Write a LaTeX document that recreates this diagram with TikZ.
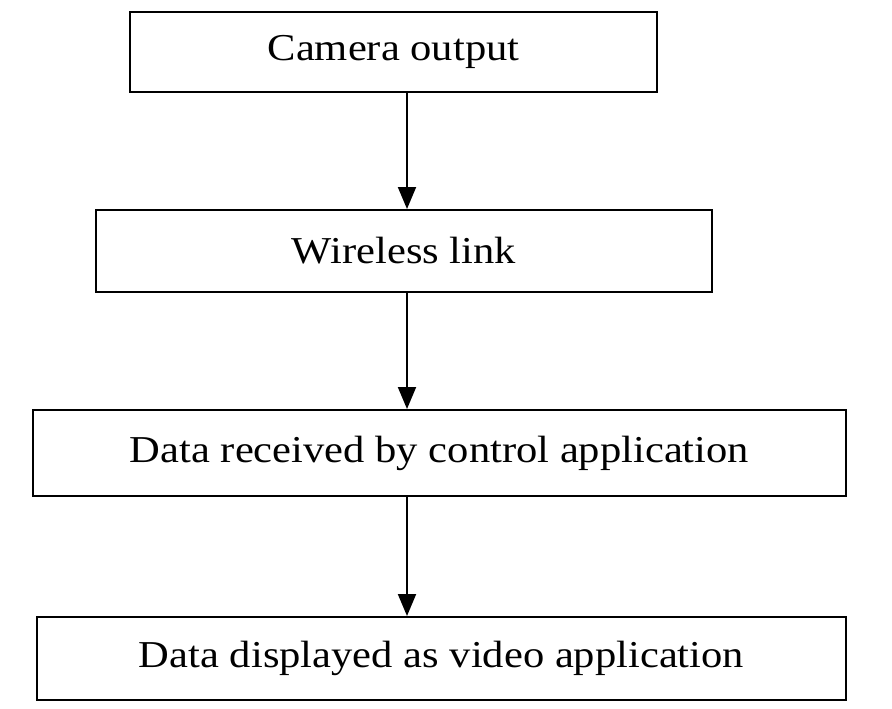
\documentclass[tikz,border=0pt]{standalone}
\usepackage{fontspec}
\setmainfont{Liberation Serif}[FakeStretch=1.12]
\usetikzlibrary{arrows.meta}
\begin{document}
\begin{tikzpicture}[x=1pt,y=-1pt,
  box/.style={draw=black,line width=2pt,inner sep=0pt,font=\fontsize{38}{42}\selectfont},
  conn/.style={line width=2pt,-{Triangle[length=22pt,width=18pt]}}]
\useasboundingbox (0,0) rectangle (892,709);
\node[box,minimum width=527pt,minimum height=80pt] (a) at (393.5,52) {Camera output};
\node[box,minimum width=616pt,minimum height=82pt] (b) at (404,251) {Wireless link};
\node[box,minimum width=813pt,minimum height=86pt] (c) at (439.5,453) {Data received by control application};
\node[box,minimum width=809pt,minimum height=83pt] (d) at (441.5,658.5) {Data displayed as video application};
\draw[conn] (a.south -| 407,0) -- (b.north -| 407,0);
\draw[conn] (b.south -| 407,0) -- (c.north -| 407,0);
\draw[conn] (c.south -| 407,0) -- (d.north -| 407,0);
\end{tikzpicture}
\end{document}
